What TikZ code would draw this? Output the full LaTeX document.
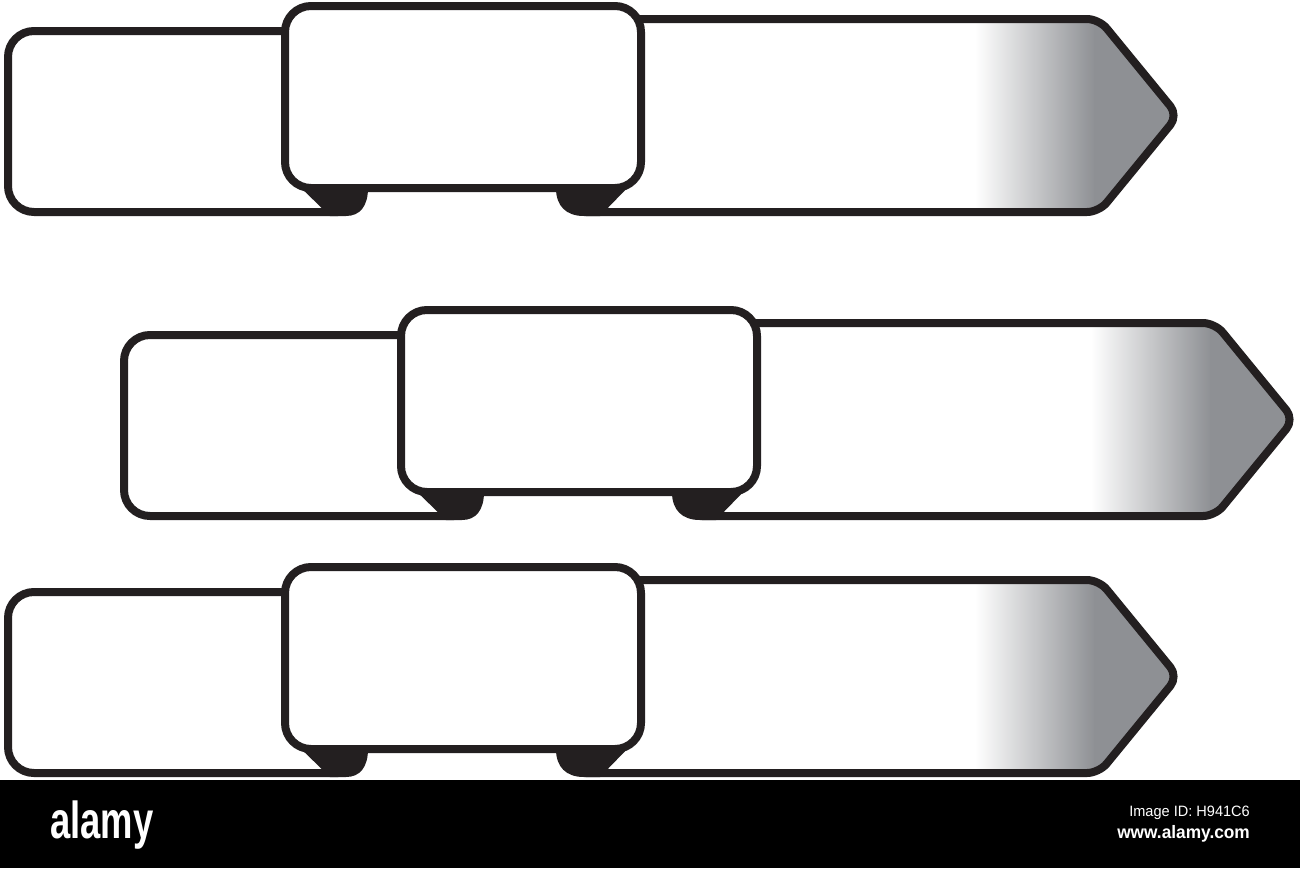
\documentclass[tikz,border=0pt]{standalone}
\usepackage{fontspec}
\setmainfont{Liberation Sans}
\definecolor{ink}{HTML}{231F20}
\definecolor{steel}{RGB}{142,144,148}
\begin{document}
\begin{tikzpicture}[x=1pt,y=-1pt,
  outline/.style={line width=8pt, draw=ink, line join=round},
  boxshape/.style={outline, fill=white, rounded corners=26pt},
  foot/.style={fill=ink},
  wmark/.style={text=white, inner sep=0pt},
]
\useasboundingbox (0,0) rectangle (1300,868);
\fill[white] (0,0) rectangle (1300,868);
\foreach \dx/\dy in {0/0,116/304,0/561}{
\begin{scope}[shift={(\dx,\dy)}]
  % left box
  \draw[boxshape] (8,31) rectangle (364,212);
  % band with arrow tip
  \fill[white, rounded corners=12pt] (700,19) -- (1099,19) -- (1178,115.5) -- (1099,212) [rounded corners=26pt] -- (560,212) -- (560,19) -- cycle;
  \begin{scope}
    \clip[rounded corners=12pt] (700,19) -- (1099,19) -- (1178,115.5) -- (1099,212) [rounded corners=26pt] -- (560,212) -- (560,19) -- cycle;
    \shade[left color=white, right color=steel] (975,0) rectangle (1095,230);
    \fill[steel] (1094,0) rectangle (1200,230);
  \end{scope}
  \draw[outline, rounded corners=12pt] (700,19) -- (1099,19) -- (1178,115.5) -- (1099,212) [rounded corners=26pt] -- (560,212) -- (560,19) -- cycle;
  % feet
  \fill[foot] (296,183) -- (330,216) -- (346,216) .. controls (360,216) and (368,206) .. (368,188) -- cycle;
  \fill[foot] (556,188) .. controls (556,206) and (566,216) .. (584,216) -- (600,216) -- (632,183) -- cycle;
  % middle box
  \draw[boxshape] (285,6) rectangle (641,188);
\end{scope}
}
% watermark band
\fill[black] (0,780) rectangle (1300,868);
\node[wmark, anchor=base west, font=\bfseries\fontsize{52}{52}\selectfont, xscale=0.7] (logo) at (50,838) {alamy};
\node[wmark, anchor=base east, font=\fontsize{15}{15}\selectfont, xscale=0.97] (imgid) at (1250,816) {Image ID: H941C6};
\node[wmark, anchor=base east, font=\bfseries\fontsize{18}{18}\selectfont, xscale=0.96] (site) at (1250,838) {www.alamy.com};
\end{tikzpicture}
\end{document}
